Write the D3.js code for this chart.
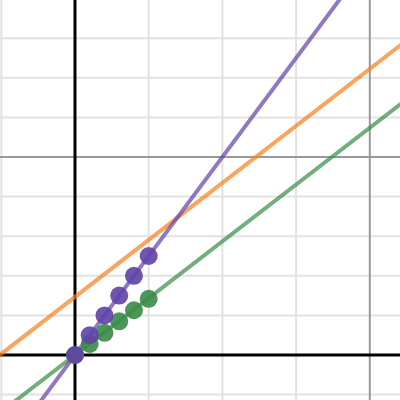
<!DOCTYPE html>
<html>
<head>
<meta charset="utf-8">
<script src="https://cdn.jsdelivr.net/npm/d3@7"></script>
<style>
  html, body { margin: 0; padding: 0; background: #fff; }
  svg { display: block; }
</style>
</head>
<body>
<svg id="chart" width="400" height="400"></svg>
<script>
// Data ----------------------------------------------------------
const pointX = [0, 1, 2, 3, 4, 5];
const purpleY = [0, 5, 10, 15, 20, 25];
const greenY = [0, 2.8, 5.6, 8.5, 11.3, 14.2];

// lines as end points, clipped by the plot area
const purpleLine = [{ x: -6, y: -30 }, { x: 23, y: 115 }];
const greenLine = [{ x: -6, y: -17.2 }, { x: 23, y: 66 }];
const orangeLine = [{ x: -6, y: -2.6 }, { x: 23, y: 80.9 }];

const xMinorTicks = d3.range(-5, 25, 5);
const xMajorTicks = [20];
const yMinorTicks = d3.range(-10, 100, 10);
const yMajorTicks = [50];

const width = 400, height = 400;
const svg = d3.select("#chart");

// x: 0 sits at 75px, 5 units per minor line ; y: 0 sits at 355px
const x = d3.scaleLinear().domain([0, 20]).range([75, 75 + 4 * 73.7]);
const y = d3.scaleLinear().domain([0, 50]).range([355, 355 - 5 * 39.6]);

svg.append("defs").append("clipPath").attr("id", "clip")
  .append("rect").attr("width", width).attr("height", height);

const g = svg.append("g").attr("clip-path", "url(#clip)");

// Grid ---------
g.selectAll(".vminor").data(xMinorTicks.filter(d => d !== 0 && !xMajorTicks.includes(d)))
  .join("line")
  .attr("x1", d => x(d)).attr("x2", d => x(d))
  .attr("y1", 0).attr("y2", height)
  .attr("stroke", "#e2e2e2").attr("stroke-width", 2);

g.selectAll(".hminor").data(yMinorTicks.filter(d => d !== 0 && !yMajorTicks.includes(d)))
  .join("line")
  .attr("y1", d => y(d)).attr("y2", d => y(d))
  .attr("x1", 0).attr("x2", width)
  .attr("stroke", "#e2e2e2").attr("stroke-width", 2);

g.selectAll(".vmajor").data(xMajorTicks)
  .join("line")
  .attr("x1", d => x(d)).attr("x2", d => x(d))
  .attr("y1", 0).attr("y2", height)
  .attr("stroke", "#999").attr("stroke-width", 2);

g.selectAll(".hmajor").data(yMajorTicks)
  .join("line")
  .attr("y1", d => y(d)).attr("y2", d => y(d))
  .attr("x1", 0).attr("x2", width)
  .attr("stroke", "#999").attr("stroke-width", 2);

// Axes ---------
g.append("line")
  .attr("x1", x(0)).attr("x2", x(0)).attr("y1", 0).attr("y2", height)
  .attr("stroke", "#000").attr("stroke-width", 3);
g.append("line")
  .attr("y1", y(0)).attr("y2", y(0)).attr("x1", 0).attr("x2", width)
  .attr("stroke", "#000").attr("stroke-width", 3);

// Lines ---------
const line = d3.line().x(d => x(d.x)).y(d => y(d.y));

function drawLine(data, color) {
  g.append("path")
    .attr("d", line(data))
    .attr("fill", "none")
    .attr("stroke", color)
    .attr("stroke-width", 4)
    .attr("stroke-opacity", 0.7)
    .attr("stroke-linecap", "round");
}
drawLine(orangeLine, "#fa7e19");
drawLine(greenLine, "#388c46");
drawLine(purpleLine, "#6042a6");

// Points ---------
function drawPoints(ys, color) {
  g.selectAll(null).data(ys.map((v, i) => ({ x: pointX[i], y: v })))
    .join("circle")
    .attr("cx", d => x(d.x))
    .attr("cy", d => y(d.y))
    .attr("r", 9)
    .attr("fill", color)
    .attr("fill-opacity", 0.9);
}
drawPoints(greenY, "#388c46");
drawPoints(purpleY, "#6042a6");
</script>
</body>
</html>
